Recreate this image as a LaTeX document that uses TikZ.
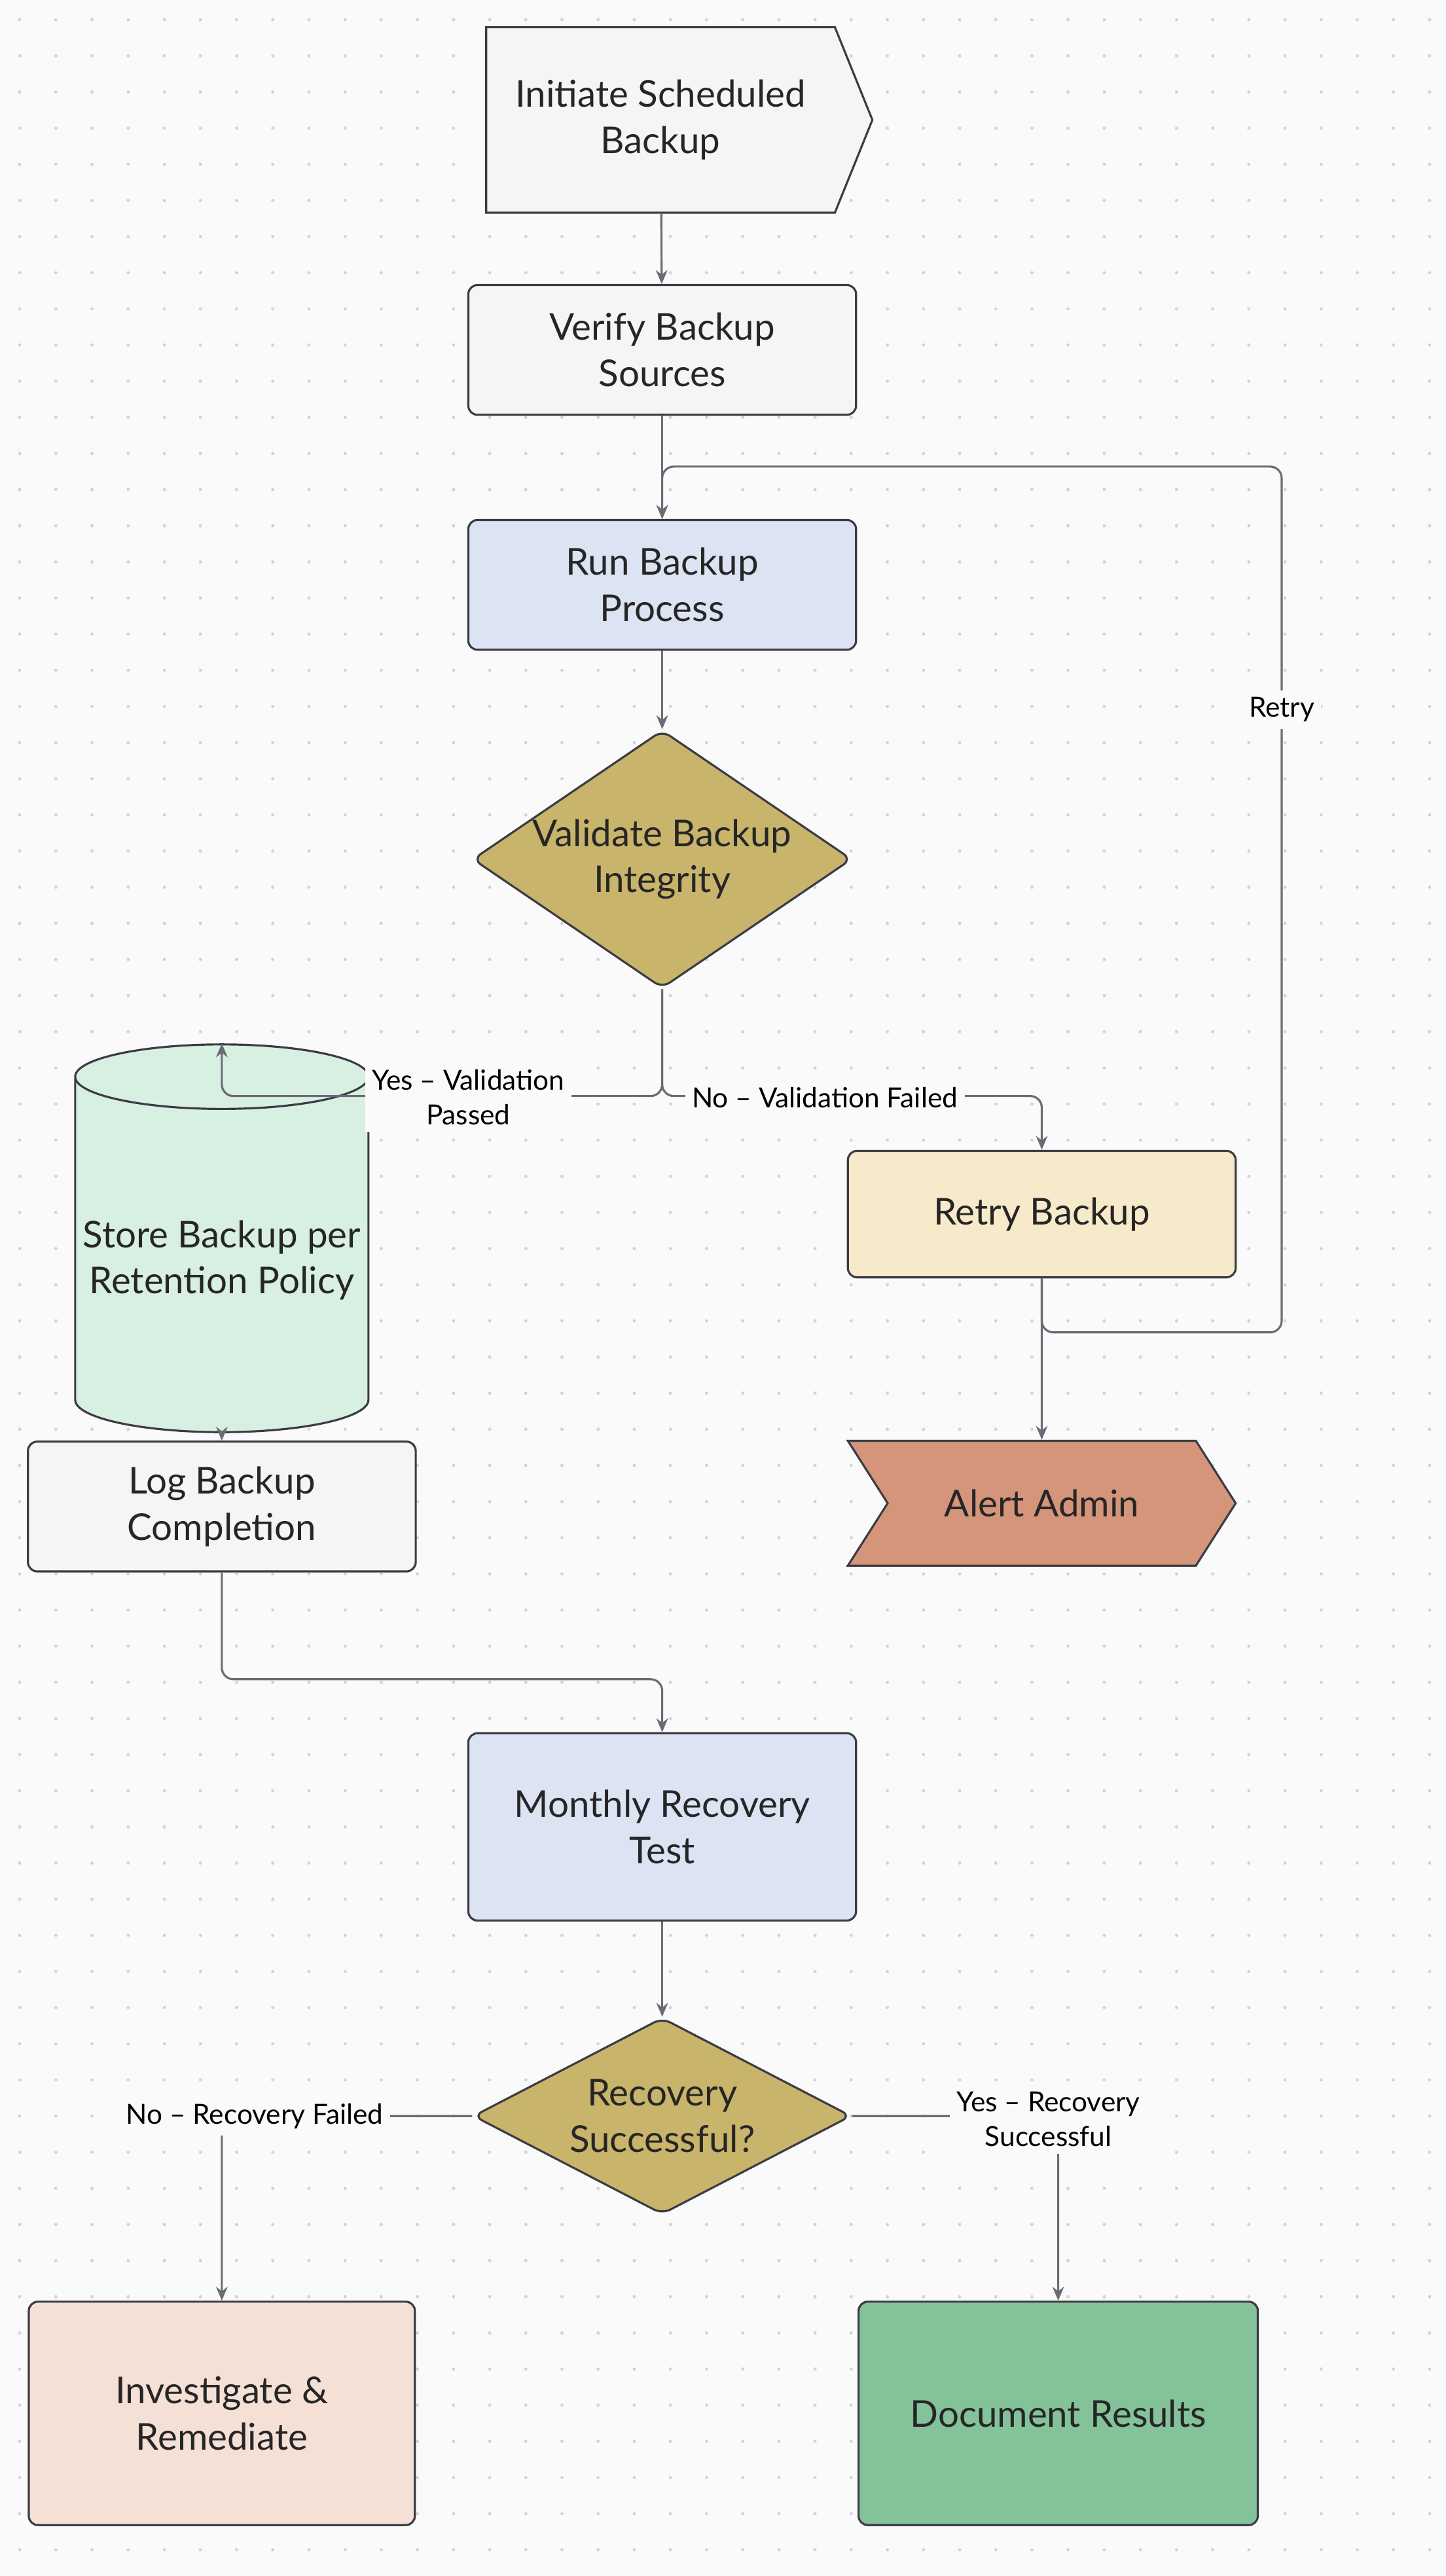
\documentclass[tikz,border=0pt]{standalone}
\usepackage{fontspec}
\setmainfont{Lato}
\usetikzlibrary{shapes.geometric,shapes.symbols,arrows.meta}

\definecolor{bgcol}{HTML}{FAFAFA}
\definecolor{dotcol}{HTML}{D4D4D8}
\definecolor{edgecol}{HTML}{6B6B75}
\definecolor{bordercol}{HTML}{3C3C44}
\definecolor{greyfill}{HTML}{F5F5F5}
\definecolor{bluefill}{HTML}{DCE3F3}
\definecolor{goldfill}{HTML}{C8B46A}
\definecolor{mintfill}{HTML}{D8F0E2}
\definecolor{creamfill}{HTML}{F6EACB}
\definecolor{rustfill}{HTML}{D4957A}
\definecolor{peachfill}{HTML}{F5E0D6}
\definecolor{greenfill}{HTML}{84C29A}

\begin{document}
\begin{tikzpicture}[>={Stealth[length=6pt,width=5pt]}]

\tikzset{
    step box/.style={
        draw=bordercol, line width=0.9pt, fill=#1,
        rectangle, rounded corners=4pt,
        minimum width=5.9cm, minimum height=1.975cm,
        font=\fontsize{16}{20}\selectfont, align=center, text=black!85
    },
    decision/.style={
        draw=bordercol, line width=0.9pt, fill=goldfill,
        diamond, aspect=1.5, inner sep=0pt, rounded corners=4pt,
        font=\fontsize{16}{20}\selectfont, align=center, text=black!85
    },
    flow/.style={draw=edgecol, line width=0.9pt, ->, rounded corners=5pt},
    edge label/.style={fill=bgcol, font=\fontsize{12}{15}\selectfont, align=center, text=black, inner sep=3pt}
}

% Background with dot grid
\fill[bgcol] (0,0) rectangle (22,-39.2);
\useasboundingbox (0,0) rectangle (22,-39.2);
\foreach \i in {0,...,39} {
    \foreach \j in {0,...,70} {
        \fill[dotcol] (0.3+\i*0.55,-0.3-\j*0.55) circle (0.025);
    }
}

% Upper chain
\node[step box=greyfill, signal, signal to=east, signal pointer angle=136,
      rounded corners=0pt, minimum width=5.875cm, minimum height=2.825cm] (start) at (10.05,-1.825) {Initiate Scheduled\\Backup};
\node[step box=greyfill] (verify) at (10.075,-5.325) {Verify Backup\\Sources};
\node[step box=bluefill] (run) at (10.075,-8.9) {Run Backup\\Process};
\node[decision, minimum width=5.75cm, minimum height=3.925cm] (validate) at (10.075,-13.075) {Validate Backup\\Integrity};

% Branches after validation
\node[step box=mintfill, cylinder, shape border rotate=90, aspect=0.22,
      rounded corners=0pt, minimum width=3.25cm, minimum height=5.9cm] (store) at (3.375,-19.175) {Store Backup per\\Retention Policy};
\node[step box=creamfill, minimum height=1.925cm] (retry) at (15.85,-18.475) {Retry Backup};
\node[step box=greyfill] (log) at (3.375,-22.925) {Log Backup\\Completion};
\node[step box=rustfill, signal, signal to=east, signal from=west, signal pointer angle=115,
      rounded corners=0pt, minimum height=1.9cm] (alert) at (15.85,-22.875) {Alert Admin};

% Recovery part
\node[step box=bluefill, minimum height=2.85cm] (monthly) at (10.075,-27.8) {Monthly Recovery\\Test};
\node[decision, minimum width=5.75cm, minimum height=2.725cm] (recovery) at (10.075,-32.2) {Recovery\\Successful?};
\node[step box=peachfill, minimum width=5.875cm, minimum height=3.4cm] (investigate) at (3.375,-36.725) {Investigate \&\\Remediate};
\node[step box=greenfill, minimum width=6.075cm, minimum height=3.4cm] (document) at (16.1,-36.725) {Document Results};

\coordinate (loopB) at (19.5,-20.275);
\coordinate (loopT) at (19.5,-7.1);

% Connectors
\draw[flow] (start) -- (verify);
\draw[flow] (verify) -- (run);
\draw[flow] (run) -- (validate);
\draw[flow] (validate.south) -- ++(0,-1.625) -| (store.north);
\draw[flow] (validate.south) -- ++(0,-1.625) -| (retry.north);
\node[edge label] (yesval) at (7.125,-16.7) {Yes – Validation\\Passed};
\node[edge label] (noval) at (12.55,-16.7) {No – Validation Failed};
\draw[flow] (retry.south) |- (loopB) -- (loopT) -| (run.north);
\node[edge label] (retrylbl) at (19.5,-10.8) {Retry};
\draw[flow] (retry) -- (alert);
\draw[flow] (store) -- (log);
\draw[flow] (log.south) -- ++(0,-1.625) -| (monthly.north);
\draw[flow] (monthly) -- (recovery);
\draw[flow] (recovery.west) -| (investigate.north);
\node[edge label] (norec) at (3.875,-32.2) {No – Recovery Failed};
\draw[flow] (recovery.east) -| (document.north);
\node[edge label] (yesrec) at (15.95,-32.25) {Yes – Recovery\\Successful};

\end{tikzpicture}
\end{document}
